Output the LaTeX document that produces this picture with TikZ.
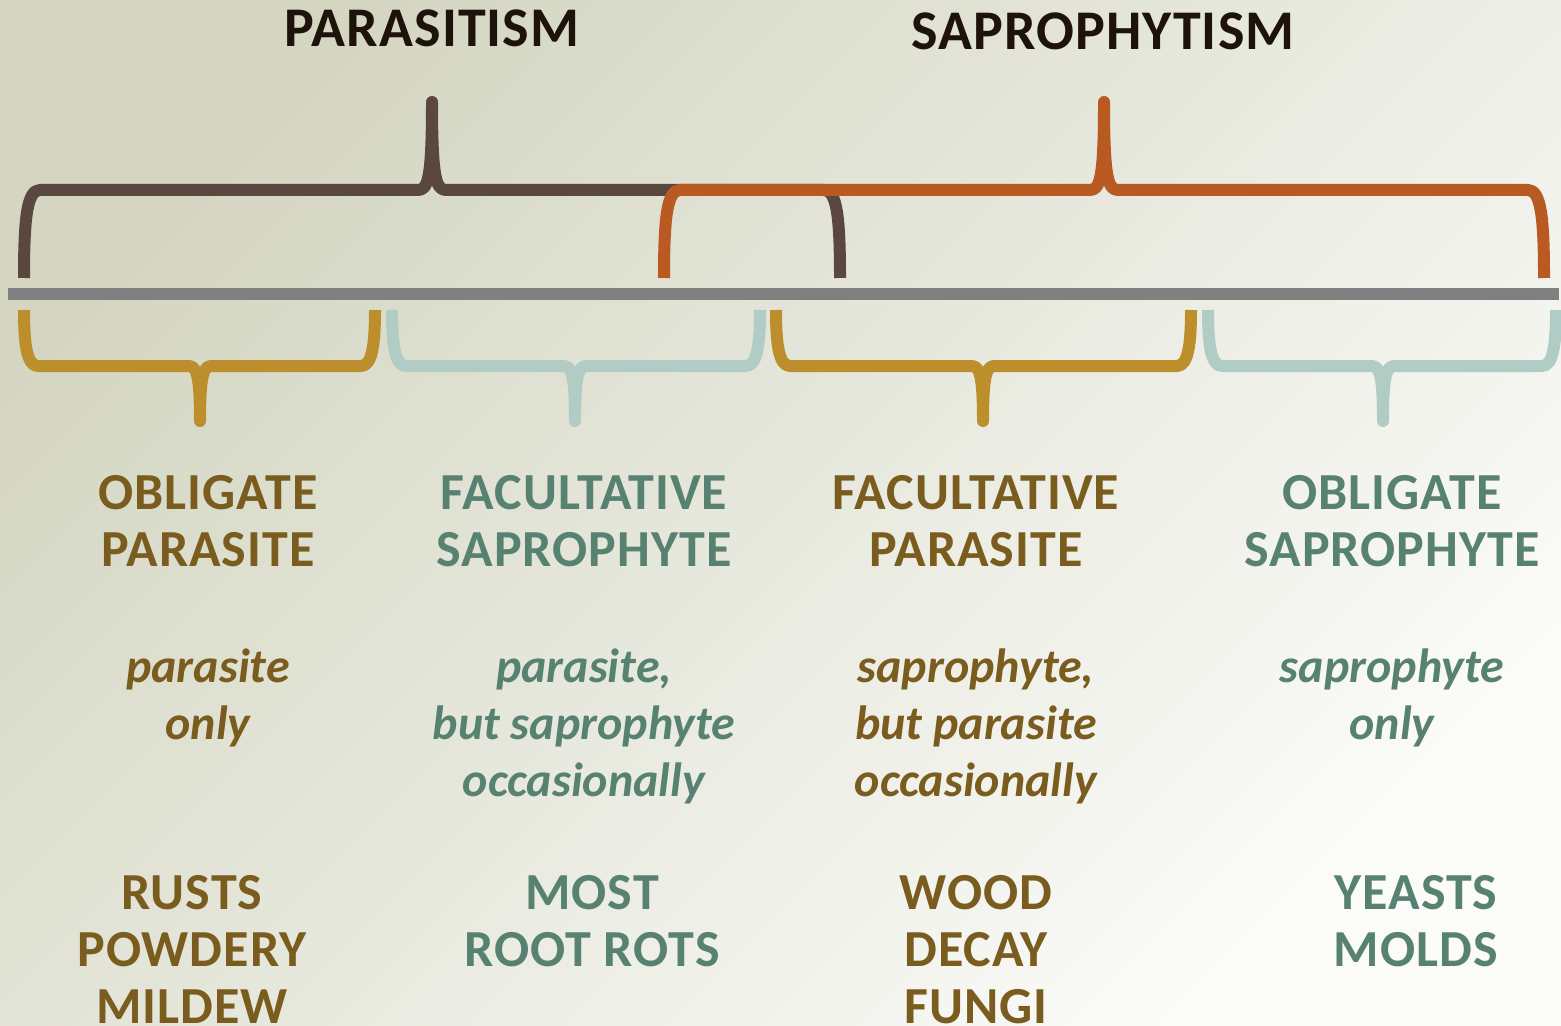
\documentclass[tikz,border=0pt]{standalone}
\usepackage{fontspec}
\setmainfont{Carlito}
\newfontfamily\spacedfont{Carlito}[LetterSpace=2]
\usetikzlibrary{positioning}
\definecolor{bark}{HTML}{5A4740}
\definecolor{rust}{HTML}{B95A22}
\definecolor{ochre}{HTML}{BC8E2C}
\definecolor{sage}{HTML}{B0CCC5}
\definecolor{ochretext}{HTML}{7A5C1F}
\definecolor{sagetext}{HTML}{578272}
\definecolor{bgdark}{HTML}{D4D6C2}
\definecolor{bglight}{HTML}{FBFBF9}
\tikzset{
  brace/.style={line width=6pt,line join=round},
  title/.style={font=\spacedfont\bfseries\fontsize{28}{32}\selectfont,text=black!85!brown,inner sep=0pt,anchor=base},
  kind/.style={font=\spacedfont\bfseries\fontsize{26}{28.5}\selectfont,align=center,inner sep=0pt,anchor=base},
  habit/.style={font=\bfseries\itshape\fontsize{24}{28.5}\selectfont,align=center,inner sep=0pt,anchor=base},
}
\begin{document}
\begin{tikzpicture}[x=0.5pt,y=-0.5pt]
  \useasboundingbox (0,0) rectangle (1561,1026);
  \clip (0,0) rectangle (1561,1026);
  \shade[top color=bgdark,bottom color=bglight,shading angle=45] (0,0) rectangle (1561,1026);

  % upper braces
  \draw[brace,bark] (24,278) .. controls (24,218) and (27,190) .. (40,190) -- (418,190)
    .. controls (428,190) and (432,178) .. (432,102) .. controls (432,178) and (436,190) .. (446,190)
    -- (824,190) .. controls (837,190) and (840,218) .. (840,278);
  \draw[brace,rust] (664,278) .. controls (664,218) and (667,190) .. (680,190) -- (1090,190)
    .. controls (1100,190) and (1104,178) .. (1104,102) .. controls (1104,178) and (1108,190) .. (1118,190)
    -- (1528,190) .. controls (1541,190) and (1544,218) .. (1544,278);

  % axis
  \draw[line width=6pt,black!50] (8,294) -- (1559,294);

  % lower braces
  \draw[brace,ochre] (24,310) .. controls (24,345) and (27,366) .. (38,366) -- (188,366)
    .. controls (196,366) and (200,372) .. (200,421) .. controls (200,372) and (204,366) .. (212,366)
    -- (361,366) .. controls (372,366) and (375,345) .. (375,310);
  \draw[brace,sage] (392,310) .. controls (392,345) and (395,366) .. (406,366) -- (563,366)
    .. controls (571,366) and (575,372) .. (575,421) .. controls (575,372) and (579,366) .. (587,366)
    -- (746,366) .. controls (757,366) and (760,345) .. (760,310);
  \draw[brace,ochre] (776,310) .. controls (776,345) and (779,366) .. (790,366) -- (971,366)
    .. controls (979,366) and (983,372) .. (983,421) .. controls (983,372) and (987,366) .. (995,366)
    -- (1177,366) .. controls (1188,366) and (1191,345) .. (1191,310);
  \draw[brace,sage] (1208,310) .. controls (1208,345) and (1211,366) .. (1222,366) -- (1371,366)
    .. controls (1379,366) and (1383,372) .. (1383,421) .. controls (1383,372) and (1387,366) .. (1395,366)
    -- (1542,366) .. controls (1553,366) and (1556,345) .. (1556,310);

  % headings
  \node[title] (para) at (432,47) {PARASITISM};
  \node[title] (sapro) at (1103,50) {SAPROPHYTISM};

  % kinds (base = last line)
  \node[kind,text=ochretext] (obpar) at (208,566) {OBLIGATE\\PARASITE};
  \node[kind,text=sagetext] (facsap) at (584,566) {FACULTATIVE\\SAPROPHYTE};
  \node[kind,text=ochretext] (facpar) at (976,566) {FACULTATIVE\\PARASITE};
  \node[kind,text=sagetext] (obsap) at (1392,566) {OBLIGATE\\SAPROPHYTE};

  % habits
  \node[habit,text=ochretext] (obparh) at (208,739) {parasite\\only};
  \node[habit,text=sagetext] (facsaph) at (584,796) {parasite,\\but saprophyte\\occasionally};
  \node[habit,text=ochretext] (facparh) at (976,796) {saprophyte,\\but parasite\\occasionally};
  \node[habit,text=sagetext] (obsaph) at (1392,739) {saprophyte\\only};

  % examples
  \node[kind,text=ochretext] (obparx) at (192,1023) {RUSTS\\POWDERY\\MILDEW};
  \node[kind,text=sagetext] (facsapx) at (592,966) {MOST\\ROOT ROTS};
  \node[kind,text=ochretext] (facparx) at (976,1023) {WOOD\\DECAY\\FUNGI};
  \node[kind,text=sagetext] (obsapx) at (1416,966) {YEASTS\\MOLDS};
\end{tikzpicture}
\end{document}
